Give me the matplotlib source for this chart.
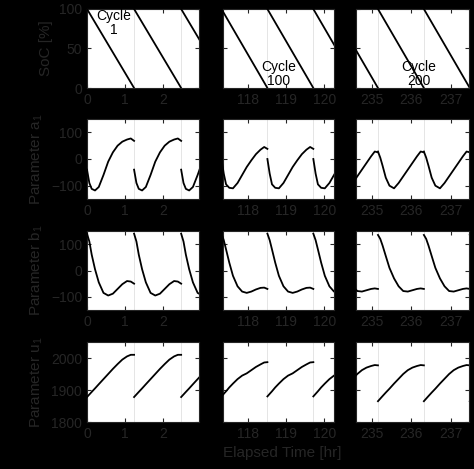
import numpy as np
import matplotlib
matplotlib.use("Agg")
import matplotlib.pyplot as plt

plt.rcParams['font.family'] = ['Liberation Sans', 'DejaVu Sans']
plt.rcParams['mathtext.fontset'] = 'custom'
plt.rcParams['mathtext.rm'] = 'Liberation Sans'
plt.rcParams['mathtext.it'] = 'Liberation Sans'

# cycle start times and periods per panel column
starts = [[0.0, 1.24, 2.48], [116.11, 117.31, 118.51, 119.71], [233.98, 235.15, 236.32, 237.49]]
periods = [1.24, 1.20, 1.17]
xlims = [(0, 2.95), (117.35, 120.25), (234.59, 237.47)]
xticks = [[0, 1, 2], [118, 119, 120], [235, 236, 237]]
cycle_labels = ["Cycle\n1", "Cycle\n100", "Cycle\n200"]
label_pos = [(0.7, 82), (118.8, 18), (236.2, 18)]

phase = [0, 0.05, 0.1, 0.17, 0.25, 0.35, 0.45, 0.55, 0.65, 0.75, 0.85, 0.93, 1.0]
soc_phase = [0, 1.0]
soc_vals = [100, 0]
a1 = [[-40, -90, -112, -118, -105, -60, -10, 25, 50, 65, 73, 77, 68],
      [0, -55, -95, -108, -110, -90, -60, -30, -5, 18, 35, 45, 38],
      [28, 5, -25, -70, -100, -110, -90, -65, -40, -15, 10, 28, 25]]
b1 = [[140, 110, 60, 5, -45, -85, -95, -88, -70, -52, -40, -42, -50],
      [140, 115, 80, 30, -20, -60, -80, -85, -80, -72, -66, -65, -70],
      [135, 120, 95, 55, 10, -30, -60, -78, -80, -75, -70, -68, -70]]
u1 = [[1878, 1886, 1894, 1905, 1918, 1934, 1950, 1966, 1981, 1995, 2005, 2010, 2010],
      [1880, 1888, 1896, 1908, 1920, 1934, 1945, 1952, 1962, 1972, 1980, 1986, 1987],
      [1865, 1873, 1881, 1892, 1904, 1920, 1935, 1950, 1962, 1970, 1975, 1978, 1977]]

ylabels = ["SoC [%]", "Parameter a$_1$", "Parameter b$_1$", "Parameter u$_1$"]
ylims = [(0, 100), (-150, 150), (-150, 150), (1800, 2050)]
yticks = [[0, 50, 100], [-100, 0, 100], [-100, 0, 100], [1800, 1900, 2000]]

tc = "#262626"
fig = plt.figure(figsize=(4.74, 4.69), dpi=100, facecolor="black")
W, H = 474, 469
cols_px = [(87, 199), (223, 334), (356, 469)]
rows_px = [(9, 88), (119, 199), (231, 310), (342, 422)]

for r in range(4):
    for c in range(3):
        x0, x1 = cols_px[c]
        y0, y1 = rows_px[r]
        ax = fig.add_axes([x0 / W, 1 - y1 / H, (x1 - x0) / W, (y1 - y0) / H])
        ax.set_facecolor("white")
        for s in starts[c]:
            ax.axvline(s, color="#e0e0e0", lw=0.6, zorder=1)
            if r == 0:
                xs = [s + f * periods[c] for f in soc_phase]
                ax.plot(xs, soc_vals, color="black", lw=1.3, zorder=3)
            else:
                vals = [a1, b1, u1][r - 1][c]
                xs = [s + f * periods[c] for f in phase]
                ax.plot(xs, vals, color="black", lw=1.3, zorder=3)
        ax.set_xlim(*xlims[c])
        ax.set_ylim(*ylims[r])
        ax.set_xticks(xticks[c])
        ax.set_yticks(yticks[r])
        ax.tick_params(direction="in", top=True, right=True, length=3,
                       colors=tc, labelsize=10, labelcolor=tc)
        if c > 0:
            ax.set_yticklabels([])
        else:
            ax.set_ylabel(ylabels[r], color=tc, fontsize=11)
        for sp in ax.spines.values():
            sp.set_color(tc)
        if r == 0:
            ax.text(*label_pos[c], cycle_labels[c], ha="center", va="center",
                    fontsize=10, color="black", linespacing=1.0)
        if r == 3 and c == 1:
            ax.set_xlabel("Elapsed Time [hr]", color=tc, fontsize=11, loc="left")

fig.savefig("out.png", dpi=100, facecolor="black")
